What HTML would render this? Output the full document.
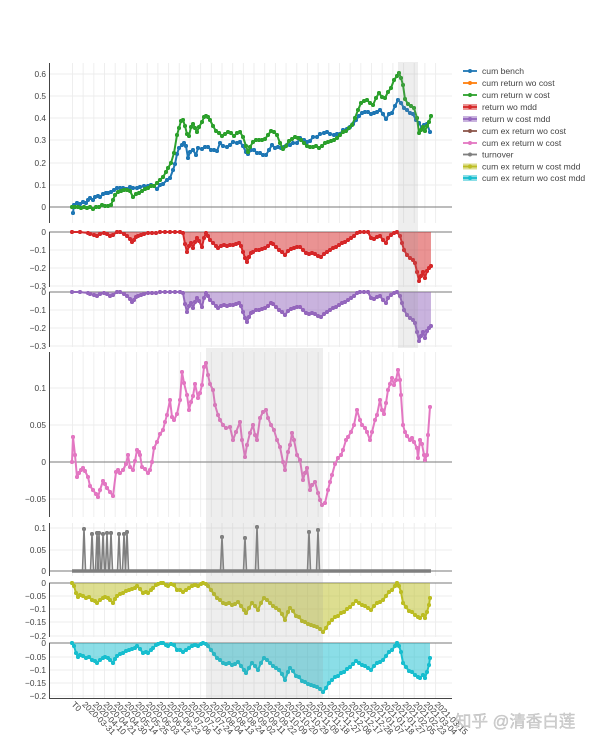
<!DOCTYPE html>
<html><head><meta charset="utf-8"><style>
html,body{margin:0;padding:0;background:#fff;}
svg{display:block;}
.t{font-family:"Liberation Sans","DejaVu Sans",sans-serif;font-size:8.3px;fill:#444;}
.lg{font-family:"Liberation Sans","DejaVu Sans",sans-serif;font-size:8.6px;fill:#444;}
.xl{font-family:"Liberation Sans","DejaVu Sans",sans-serif;font-size:8.4px;fill:#444;}
</style></head><body>
<svg width="600" height="748" viewBox="0 0 600 748" xmlns="http://www.w3.org/2000/svg">
<defs>
<pattern id="vg" x="72" y="0" width="10.68" height="20" patternUnits="userSpaceOnUse"><rect x="0" y="0" width="0.9" height="20" fill="#ececec"/></pattern>
<marker id="mb" viewBox="0 0 6 6" refX="3" refY="3" markerWidth="4.4" markerHeight="4.4" markerUnits="userSpaceOnUse"><circle cx="3" cy="3" r="3" fill="#1f77b4"/></marker>
<marker id="mg" viewBox="0 0 6 6" refX="3" refY="3" markerWidth="4.4" markerHeight="4.4" markerUnits="userSpaceOnUse"><circle cx="3" cy="3" r="3" fill="#2ca02c"/></marker>
<marker id="mr" viewBox="0 0 6 6" refX="3" refY="3" markerWidth="4.4" markerHeight="4.4" markerUnits="userSpaceOnUse"><circle cx="3" cy="3" r="3" fill="#d62728"/></marker>
<marker id="mp" viewBox="0 0 6 6" refX="3" refY="3" markerWidth="4.4" markerHeight="4.4" markerUnits="userSpaceOnUse"><circle cx="3" cy="3" r="3" fill="#9467bd"/></marker>
<marker id="mk" viewBox="0 0 6 6" refX="3" refY="3" markerWidth="4.4" markerHeight="4.4" markerUnits="userSpaceOnUse"><circle cx="3" cy="3" r="3" fill="#e377c2"/></marker>
<marker id="mt" viewBox="0 0 6 6" refX="3" refY="3" markerWidth="4.4" markerHeight="4.4" markerUnits="userSpaceOnUse"><circle cx="3" cy="3" r="3" fill="#7f7f7f"/></marker>
<marker id="my" viewBox="0 0 6 6" refX="3" refY="3" markerWidth="4.4" markerHeight="4.4" markerUnits="userSpaceOnUse"><circle cx="3" cy="3" r="3" fill="#bcbd22"/></marker>
<marker id="mc" viewBox="0 0 6 6" refX="3" refY="3" markerWidth="4.4" markerHeight="4.4" markerUnits="userSpaceOnUse"><circle cx="3" cy="3" r="3" fill="#17becf"/></marker>

<polyline id="ddl" points="72,232 80,232 88,233 90,234 94,235 97,236 100,234 104,233 107,234 110,236 113,235 117,232 120,232 124,234 127,236 130,239 132,242 134,240 136,237 138,236 141,235 144,234 148,233 152,233 156,233 160,232 165,232 170,232 175,232 180,232 183,233 185,244 187,252 189,246 191,243 193,248 195,242 197,238 199,241 202,247 204,238 206,233 208,236 210,240 213,243 216,246 218,248 221,246 224,245 227,246 230,245 233,245 236,244 239,243 241,246 243,252 245,258 247,262 249,257 251,253 253,252 256,250 259,250 262,249 265,248 268,246 271,243 273,244 276,247 279,250 282,252 285,255 288,251 291,249 294,248 297,247 300,247 303,250 306,253 309,254 312,253 315,254 318,256 321,257 324,254 327,252 330,250 333,248 336,247 339,245 342,243 345,242 348,240 351,238 354,236 357,233 360,232 364,232 368,232 371,238 374,239 377,237 380,236 383,240 386,243 388,238 391,235 394,233 397,232 400,236 402,243 404,250 407,255 410,258 413,260 415,263 417,272 419,281 421,276 423,272 425,278 427,271 429,268 431,266"/>
<polygon id="ddf" points="72,232 80,232 88,233 90,234 94,235 97,236 100,234 104,233 107,234 110,236 113,235 117,232 120,232 124,234 127,236 130,239 132,242 134,240 136,237 138,236 141,235 144,234 148,233 152,233 156,233 160,232 165,232 170,232 175,232 180,232 183,233 185,244 187,252 189,246 191,243 193,248 195,242 197,238 199,241 202,247 204,238 206,233 208,236 210,240 213,243 216,246 218,248 221,246 224,245 227,246 230,245 233,245 236,244 239,243 241,246 243,252 245,258 247,262 249,257 251,253 253,252 256,250 259,250 262,249 265,248 268,246 271,243 273,244 276,247 279,250 282,252 285,255 288,251 291,249 294,248 297,247 300,247 303,250 306,253 309,254 312,253 315,254 318,256 321,257 324,254 327,252 330,250 333,248 336,247 339,245 342,243 345,242 348,240 351,238 354,236 357,233 360,232 364,232 368,232 371,238 374,239 377,237 380,236 383,240 386,243 388,238 391,235 394,233 397,232 400,236 402,243 404,250 407,255 410,258 413,260 415,263 417,272 419,281 421,276 423,272 425,278 427,271 429,268 431,266 431,232"/>

<polyline id="yyl" points="72,583 74,586 76,593 78,597 80,595 83,596 86,598 89,597 92,600 95,601 97,603 100,600 103,598 105,597 108,598 110,600 113,603 115,599 117,596 120,594 123,593 126,591 129,590 132,589 135,588 137,586 140,589 143,593 146,592 148,593 151,590 153,588 156,585 158,584 161,583 163,583 166,585 168,586 171,584 174,585 177,590 180,590 183,592 186,590 189,588 192,586 195,585 198,586 201,584 203,583 206,584 208,586 211,590 214,594 217,598 220,600 223,603 226,604 229,603 232,605 235,604 238,602 241,606 244,610 246,613 249,608 252,603 255,606 258,610 261,603 264,598 267,600 270,603 273,606 276,608 279,610 282,614 285,620 288,612 290,608 293,611 296,616 299,617 302,621 305,622 308,624 311,625 314,626 317,627 320,629 323,632 326,628 329,623 332,620 335,617 338,616 341,613 344,612 347,609 350,607 353,604 356,601 359,603 362,605 365,606 368,608 371,610 374,606 377,603 380,602 383,600 386,596 389,592 392,590 395,586 397,583 399,586 401,592 403,603 406,607 409,611 412,612 415,615 418,617 420,618 423,615 425,618 427,612 429,605 430,598"/>
<polygon id="yyf" points="72,583 74,586 76,593 78,597 80,595 83,596 86,598 89,597 92,600 95,601 97,603 100,600 103,598 105,597 108,598 110,600 113,603 115,599 117,596 120,594 123,593 126,591 129,590 132,589 135,588 137,586 140,589 143,593 146,592 148,593 151,590 153,588 156,585 158,584 161,583 163,583 166,585 168,586 171,584 174,585 177,590 180,590 183,592 186,590 189,588 192,586 195,585 198,586 201,584 203,583 206,584 208,586 211,590 214,594 217,598 220,600 223,603 226,604 229,603 232,605 235,604 238,602 241,606 244,610 246,613 249,608 252,603 255,606 258,610 261,603 264,598 267,600 270,603 273,606 276,608 279,610 282,614 285,620 288,612 290,608 293,611 296,616 299,617 302,621 305,622 308,624 311,625 314,626 317,627 320,629 323,632 326,628 329,623 332,620 335,617 338,616 341,613 344,612 347,609 350,607 353,604 356,601 359,603 362,605 365,606 368,608 371,610 374,606 377,603 380,602 383,600 386,596 389,592 392,590 395,586 397,583 399,586 401,592 403,603 406,607 409,611 412,612 415,615 418,617 420,618 423,615 425,618 427,612 429,605 430,598 430,583"/>
</defs>

<!-- vertical grids per subplot -->
<rect x="70" y="63" width="370" height="160" fill="url(#vg)"/>
<rect x="70" y="232" width="370" height="55" fill="url(#vg)"/>
<rect x="70" y="292" width="370" height="55" fill="url(#vg)"/>
<rect x="70" y="352" width="370" height="165" fill="url(#vg)"/>
<rect x="70" y="523" width="370" height="53" fill="url(#vg)"/>
<rect x="70" y="583" width="370" height="54" fill="url(#vg)"/>
<rect x="70" y="643" width="370" height="55" fill="url(#vg)"/>

<!-- horizontal grids -->
<g stroke="#ececec" stroke-width="0.9">
<line x1="49" x2="452" y1="74" y2="74"/><line x1="49" x2="452" y1="96" y2="96"/><line x1="49" x2="452" y1="118" y2="118"/><line x1="49" x2="452" y1="140" y2="140"/><line x1="49" x2="452" y1="163" y2="163"/><line x1="49" x2="452" y1="185" y2="185"/>
<line x1="49" x2="452" y1="250" y2="250"/><line x1="49" x2="452" y1="268" y2="268"/><line x1="49" x2="452" y1="286" y2="286"/>
<line x1="49" x2="452" y1="310" y2="310"/><line x1="49" x2="452" y1="328" y2="328"/><line x1="49" x2="452" y1="346" y2="346"/>
<line x1="49" x2="452" y1="388" y2="388"/><line x1="49" x2="452" y1="425" y2="425"/><line x1="49" x2="452" y1="499" y2="499"/>
<line x1="49" x2="452" y1="528" y2="528"/><line x1="49" x2="452" y1="550" y2="550"/>
<line x1="49" x2="452" y1="596" y2="596"/><line x1="49" x2="452" y1="609" y2="609"/><line x1="49" x2="452" y1="622" y2="622"/><line x1="49" x2="452" y1="636" y2="636"/>
<line x1="49" x2="452" y1="657" y2="657"/><line x1="49" x2="452" y1="670" y2="670"/><line x1="49" x2="452" y1="683" y2="683"/><line x1="49" x2="452" y1="696" y2="696"/>
</g>

<!-- zero lines -->
<g stroke="#7a7a7a" stroke-width="1">
<line x1="49" x2="452" y1="207" y2="207"/>
<line x1="49" x2="452" y1="232" y2="232"/>
<line x1="49" x2="452" y1="292" y2="292"/>
<line x1="49" x2="452" y1="462" y2="462"/>
<line x1="49" x2="452" y1="571" y2="571"/>
<line x1="49" x2="452" y1="583" y2="583"/>
<line x1="49" x2="452" y1="643" y2="643"/>
</g>

<!-- axis lines -->
<g stroke="#444" stroke-width="1">
<line x1="49.5" x2="49.5" y1="63" y2="223"/>
<line x1="49.5" x2="49.5" y1="232" y2="287"/>
<line x1="49.5" x2="49.5" y1="292" y2="347"/>
<line x1="49.5" x2="49.5" y1="352" y2="517"/>
<line x1="49.5" x2="49.5" y1="523" y2="576"/>
<line x1="49.5" x2="49.5" y1="583" y2="637"/>
<line x1="49.5" x2="49.5" y1="643" y2="698"/>
<line x1="49" x2="452" y1="698.5" y2="698.5"/>
</g>

<!-- top: cum bench & cum return -->
<polyline fill="none" stroke="#1f77b4" stroke-width="2" stroke-linejoin="round" marker-start="url(#mb)" marker-mid="url(#mb)" marker-end="url(#mb)" points="73,213 74,205 77,203 80,204 83,202 86,203 88,200 90,198 93,200 95,197 98,196 100,197 103,194 106,193 108,193 111,192 114,190 117,188 120,188 123,188 126,189 130,187 133,188 137,188 140,187 144,186 148,186 151,185 154,186 157,189 160,185 163,184 167,180 170,178 173,170 175,164 177,154 179,148 182,145 184,143 186,146 188,158 190,152 193,150 196,155 198,148 202,149 205,147 208,147 211,150 214,150 217,151 220,143 223,146 227,147 230,145 233,142 237,143 240,142 243,146 246,152 248,154 251,150 254,150 257,153 260,153 263,155 266,155 269,150 272,145 275,148 278,147 281,148 284,147 287,145 290,145 293,143 297,143 300,138 304,140 307,142 310,141 313,137 317,137 320,134 324,133 327,132 330,134 334,135 337,134 340,134 343,130 347,129 350,127 353,124 356,120 359,116 362,113 365,112 368,112 371,114 374,113 377,112 380,110 383,114 386,119 389,114 392,113 395,106 398,100 401,103 404,108 407,110 410,113 413,114 416,120 419,123 422,128 424,125 427,124 430,132"/>
<polyline fill="none" stroke="#2ca02c" stroke-width="2" stroke-linejoin="round" marker-start="url(#mg)" marker-mid="url(#mg)" marker-end="url(#mg)" points="72,207 75,207 78,207 81,208 84,207 87,208 90,207 93,209 96,207 99,207 102,205 105,206 108,206 111,205 113,200 115,195 118,192 121,191 124,190 127,190 130,191 133,197 136,194 139,193 142,191 145,189 148,188 151,186 154,186 157,183 160,180 163,177 166,172 168,168 171,163 174,153 177,135 179,128 181,121 183,120 185,126 187,134 189,136 191,127 193,124 195,128 197,132 199,127 202,122 204,117 206,116 208,117 210,120 213,126 216,131 219,133 222,136 225,134 228,132 231,133 234,136 237,133 240,132 243,137 246,146 248,152 250,147 253,142 256,140 259,140 262,140 265,139 268,135 271,131 274,132 277,135 280,143 283,149 286,146 289,141 292,139 295,137 298,138 301,140 304,143 307,146 310,147 313,147 316,146 319,148 322,146 325,143 328,142 331,141 334,140 337,138 340,135 343,132 346,131 349,128 352,125 355,118 358,110 361,103 364,101 367,100 370,103 373,105 376,98 379,93 382,97 385,98 388,92 391,88 394,80 397,76 399,73 401,78 403,85 405,99 408,104 411,106 414,108 417,118 419,133 421,130 423,127 425,131 427,126 429,122 431,116"/>

<!-- red mdd -->
<use href="#ddf" fill="rgba(214,39,40,0.5)" stroke="none"/>
<use href="#ddl" fill="none" stroke="#d62728" stroke-width="2" stroke-linejoin="round" marker-start="url(#mr)" marker-mid="url(#mr)" marker-end="url(#mr)"/>
<!-- purple mdd -->
<g transform="translate(0,60)">
<use href="#ddf" fill="rgba(148,103,189,0.5)" stroke="none"/>
<use href="#ddl" fill="none" stroke="#9467bd" stroke-width="2" stroke-linejoin="round" marker-start="url(#mp)" marker-mid="url(#mp)" marker-end="url(#mp)"/>
</g>

<!-- pink cum ex -->
<polyline fill="none" stroke="#e377c2" stroke-width="2" stroke-linejoin="round" marker-start="url(#mk)" marker-mid="url(#mk)" marker-end="url(#mk)" points="72,462 73,437 75,455 77,477 79,473 81,470 83,468 85,471 88,477 90,486 93,490 96,494 98,497 100,490 103,481 105,484 107,488 110,492 113,496 116,472 118,470 120,473 123,470 126,464 128,455 130,467 133,470 135,461 137,450 139,452 140,455 142,467 145,469 148,473 150,470 152,462 154,448 157,442 160,434 163,430 165,422 167,415 170,400 172,417 174,420 177,414 180,400 182,372 184,383 187,395 189,410 191,402 193,396 195,384 198,398 200,393 202,385 204,367 206,363 208,375 210,384 213,390 215,405 218,415 220,420 223,425 226,428 230,427 233,440 236,432 240,422 242,440 245,457 247,445 250,433 253,425 255,435 257,440 260,418 263,412 266,410 268,418 271,425 274,430 277,440 280,447 283,462 285,470 288,452 290,445 292,433 294,440 297,455 300,460 303,480 305,473 307,468 310,490 312,485 315,482 318,493 320,500 322,505 325,503 328,490 330,482 332,475 335,464 338,458 341,455 343,450 346,440 348,437 351,432 354,425 357,410 360,420 362,425 365,428 367,432 370,440 372,432 375,420 377,415 380,400 382,410 384,414 386,403 388,390 390,384 392,378 394,385 396,380 398,370 400,380 401,395 403,425 405,432 407,436 410,440 412,438 414,442 417,448 418,458 420,440 422,444 424,455 425,460 427,455 428,435 430,407"/>

<!-- turnover -->
<g fill="none" stroke="#7f7f7f" stroke-width="1.6" stroke-linejoin="round">
<line x1="72" x2="431" y1="571" y2="571" stroke-width="3.6"/>
<polyline points="82.5,571 84,529 85.5,571" marker-mid="url(#mt)"/>
<polyline points="90.5,571 92,534 93.5,571" marker-mid="url(#mt)"/>
<polyline points="95.5,571 97,533 98.5,571" marker-mid="url(#mt)"/>
<polyline points="97.5,571 99,533 100.5,571" marker-mid="url(#mt)"/>
<polyline points="101.5,571 103,534 104.5,571" marker-mid="url(#mt)"/>
<polyline points="105.5,571 107,533 108.5,571" marker-mid="url(#mt)"/>
<polyline points="109.5,571 111,533 112.5,571" marker-mid="url(#mt)"/>
<polyline points="117.5,571 119,534 120.5,571" marker-mid="url(#mt)"/>
<polyline points="122.5,571 124,534 125.5,571" marker-mid="url(#mt)"/>
<polyline points="125.5,571 127,532 128.5,571" marker-mid="url(#mt)"/>
<polyline points="220.5,571 222,537 223.5,571" marker-mid="url(#mt)"/>
<polyline points="243.5,571 245,538 246.5,571" marker-mid="url(#mt)"/>
<polyline points="255.5,571 257,527 258.5,571" marker-mid="url(#mt)"/>
<polyline points="307.5,571 309,532 310.5,571" marker-mid="url(#mt)"/>
<polyline points="316.5,571 318,530 319.5,571" marker-mid="url(#mt)"/>
</g>

<!-- yellow mdd -->
<use href="#yyf" fill="rgba(188,189,34,0.5)" stroke="none"/>
<use href="#yyl" fill="none" stroke="#bcbd22" stroke-width="2" stroke-linejoin="round" marker-start="url(#my)" marker-mid="url(#my)" marker-end="url(#my)"/>
<!-- cyan mdd -->
<g transform="translate(0,60)">
<use href="#yyf" fill="rgba(23,190,207,0.5)" stroke="none"/>
<use href="#yyl" fill="none" stroke="#17becf" stroke-width="2" stroke-linejoin="round" marker-start="url(#mc)" marker-mid="url(#mc)" marker-end="url(#mc)"/>
</g>

<!-- shaded bands (above traces) -->
<rect x="398" y="62" width="20" height="286" fill="rgba(150,150,150,0.16)"/>
<rect x="206" y="348" width="117" height="350" fill="rgba(150,150,150,0.16)"/>

<!-- y tick labels -->
<g class="t" text-anchor="end">
<text x="46" y="77">0.6</text><text x="46" y="99">0.5</text><text x="46" y="121">0.4</text><text x="46" y="143">0.3</text><text x="46" y="166">0.2</text><text x="46" y="188">0.1</text><text x="46" y="210">0</text>
<text x="46" y="235">0</text><text x="46" y="253">−0.1</text><text x="46" y="271">−0.2</text><text x="46" y="289">−0.3</text>
<text x="46" y="295">0</text><text x="46" y="313">−0.1</text><text x="46" y="331">−0.2</text><text x="46" y="349">−0.3</text>
<text x="46" y="391">0.1</text><text x="46" y="428">0.05</text><text x="46" y="465">0</text><text x="46" y="502">−0.05</text>
<text x="46" y="531">0.1</text><text x="46" y="553">0.05</text><text x="46" y="574">0</text>
<text x="46" y="586">0</text><text x="46" y="599">−0.05</text><text x="46" y="612">−0.1</text><text x="46" y="625">−0.15</text><text x="46" y="639">−0.2</text>
<text x="46" y="646">0</text><text x="46" y="660">−0.05</text><text x="46" y="673">−0.1</text><text x="46" y="686">−0.15</text><text x="46" y="699">−0.2</text>
</g>

<!-- x tick labels -->
<g class="xl">
<text transform="translate(71,705) rotate(45)">T0</text>
<text transform="translate(81.7,705) rotate(45)">2020-03-31</text>
<text transform="translate(92.4,705) rotate(45)">2020-04-10</text>
<text transform="translate(103,705) rotate(45)">2020-04-21</text>
<text transform="translate(113.7,705) rotate(45)">2020-04-30</text>
<text transform="translate(124.4,705) rotate(45)">2020-05-14</text>
<text transform="translate(135.1,705) rotate(45)">2020-05-25</text>
<text transform="translate(145.8,705) rotate(45)">2020-06-03</text>
<text transform="translate(156.4,705) rotate(45)">2020-06-12</text>
<text transform="translate(167.1,705) rotate(45)">2020-06-23</text>
<text transform="translate(177.8,705) rotate(45)">2020-07-06</text>
<text transform="translate(188.5,705) rotate(45)">2020-07-15</text>
<text transform="translate(199.2,705) rotate(45)">2020-07-24</text>
<text transform="translate(209.8,705) rotate(45)">2020-08-04</text>
<text transform="translate(220.5,705) rotate(45)">2020-08-13</text>
<text transform="translate(231.2,705) rotate(45)">2020-08-24</text>
<text transform="translate(241.9,705) rotate(45)">2020-09-02</text>
<text transform="translate(252.6,705) rotate(45)">2020-09-11</text>
<text transform="translate(263.2,705) rotate(45)">2020-09-22</text>
<text transform="translate(273.9,705) rotate(45)">2020-10-09</text>
<text transform="translate(284.6,705) rotate(45)">2020-10-20</text>
<text transform="translate(295.3,705) rotate(45)">2020-10-29</text>
<text transform="translate(306,705) rotate(45)">2020-11-09</text>
<text transform="translate(316.6,705) rotate(45)">2020-11-18</text>
<text transform="translate(327.3,705) rotate(45)">2020-11-27</text>
<text transform="translate(338,705) rotate(45)">2020-12-08</text>
<text transform="translate(348.7,705) rotate(45)">2020-12-17</text>
<text transform="translate(359.4,705) rotate(45)">2020-12-28</text>
<text transform="translate(370,705) rotate(45)">2021-01-07</text>
<text transform="translate(380.7,705) rotate(45)">2021-01-18</text>
<text transform="translate(391.4,705) rotate(45)">2021-01-27</text>
<text transform="translate(402.1,705) rotate(45)">2021-02-05</text>
<text transform="translate(412.8,705) rotate(45)">2021-02-23</text>
<text transform="translate(423.4,705) rotate(45)">2021-03-04</text>
<text transform="translate(434.1,705) rotate(45)">2021-03-15</text>
</g>

<!-- legend -->
<g>
<line x1="463" x2="477" y1="71" y2="71" stroke="#1f77b4" stroke-width="1.8"/><circle cx="470" cy="71" r="2" fill="#1f77b4"/>
<text class="lg" x="482" y="74">cum bench</text>
<line x1="463" x2="477" y1="83" y2="83" stroke="#ff7f0e" stroke-width="1.8"/><circle cx="470" cy="83" r="2" fill="#ff7f0e"/>
<text class="lg" x="482" y="86">cum return wo cost</text>
<line x1="463" x2="477" y1="95" y2="95" stroke="#2ca02c" stroke-width="1.8"/><circle cx="470" cy="95" r="2" fill="#2ca02c"/>
<text class="lg" x="482" y="98">cum return w cost</text>
<rect x="463" y="104" width="14" height="6" fill="rgba(214,39,40,0.5)"/><line x1="463" x2="477" y1="107" y2="107" stroke="#d62728" stroke-width="1.8"/><circle cx="470" cy="107" r="2" fill="#d62728"/>
<text class="lg" x="482" y="110">return wo mdd</text>
<rect x="463" y="116" width="14" height="6" fill="rgba(148,103,189,0.5)"/><line x1="463" x2="477" y1="119" y2="119" stroke="#9467bd" stroke-width="1.8"/><circle cx="470" cy="119" r="2" fill="#9467bd"/>
<text class="lg" x="482" y="122">return w cost mdd</text>
<line x1="463" x2="477" y1="131" y2="131" stroke="#8c564b" stroke-width="1.8"/><circle cx="470" cy="131" r="2" fill="#8c564b"/>
<text class="lg" x="482" y="134">cum ex return wo cost</text>
<line x1="463" x2="477" y1="143" y2="143" stroke="#e377c2" stroke-width="1.8"/><circle cx="470" cy="143" r="2" fill="#e377c2"/>
<text class="lg" x="482" y="146">cum ex return w cost</text>
<line x1="463" x2="477" y1="154.5" y2="154.5" stroke="#7f7f7f" stroke-width="1.8"/><circle cx="470" cy="154.5" r="2" fill="#7f7f7f"/>
<text class="lg" x="482" y="157.5">turnover</text>
<rect x="463" y="163.5" width="14" height="6" fill="rgba(188,189,34,0.5)"/><line x1="463" x2="477" y1="166.5" y2="166.5" stroke="#bcbd22" stroke-width="1.8"/><circle cx="470" cy="166.5" r="2" fill="#bcbd22"/>
<text class="lg" x="482" y="169.5">cum ex return w cost mdd</text>
<rect x="463" y="175" width="14" height="6" fill="rgba(23,190,207,0.5)"/><line x1="463" x2="477" y1="178" y2="178" stroke="#17becf" stroke-width="1.8"/><circle cx="470" cy="178" r="2" fill="#17becf"/>
<text class="lg" x="482" y="181">cum ex return wo cost mdd</text>
</g>

<!-- watermark -->
<text x="455" y="727" font-family="'Liberation Sans','Noto Sans CJK SC',sans-serif" font-size="16.5" fill="#d2d2d2" stroke="#b0b0b0" stroke-width="0.3">知乎 @清香白莲</text>
</svg>
</body></html>
